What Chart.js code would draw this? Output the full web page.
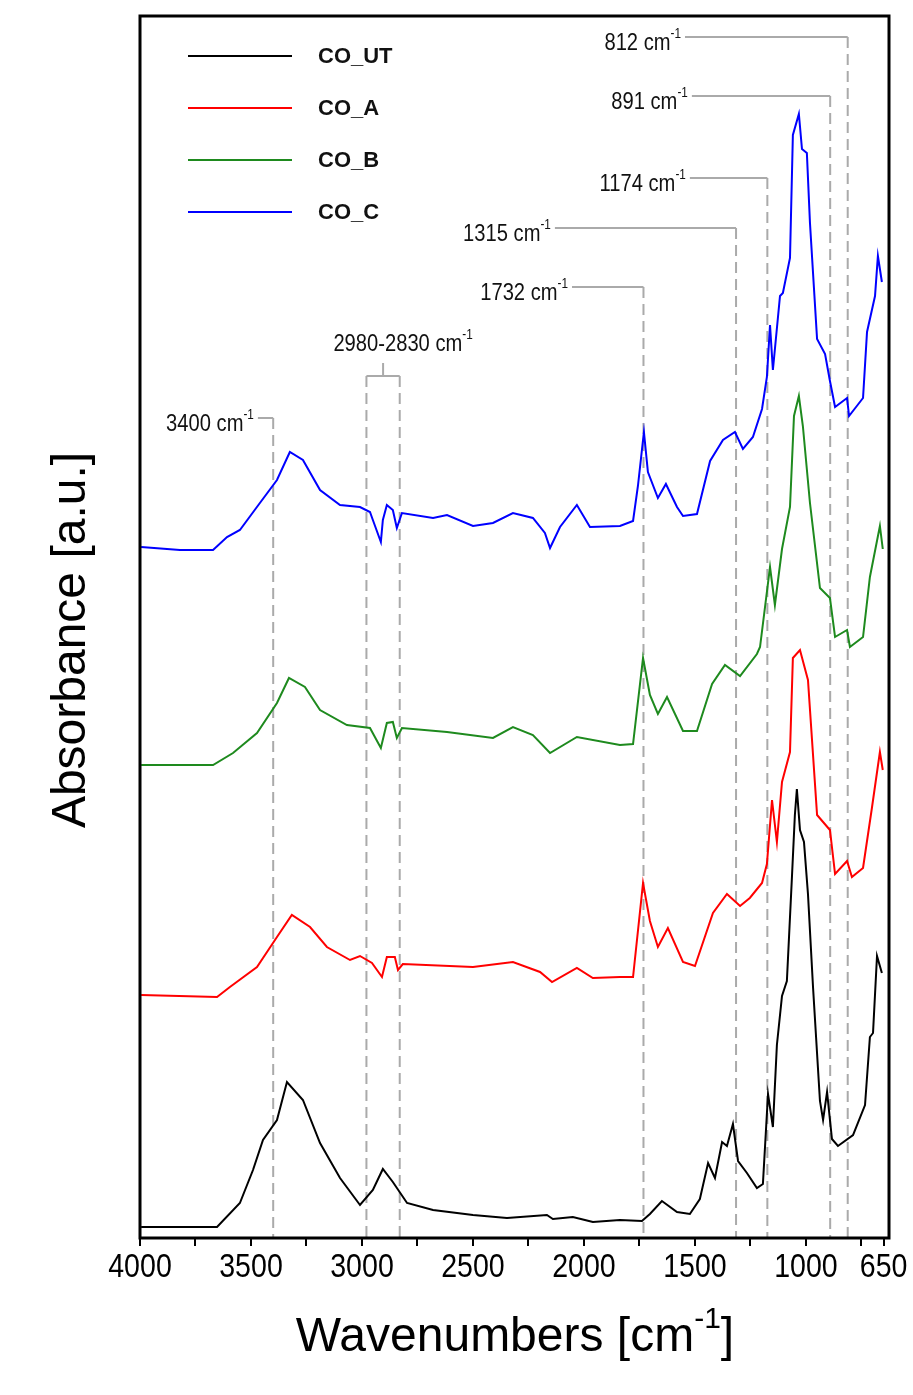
<!DOCTYPE html>
<html lang="en">
<head>
<meta charset="UTF-8">
<title>FTIR spectra</title>
<script src="https://cdn.jsdelivr.net/npm/chart.js"></script>
<style>
  html, body { margin: 0; padding: 0; background: #fff; }
  #wrap { width: 913px; height: 1395px; position: relative; }
</style>
</head>
<body>
<div id="wrap"><canvas id="ftir"></canvas></div>
<script>
// series names and colours
const seriesNames = ['CO_UT', 'CO_A', 'CO_B', 'CO_C'];
const seriesColors = ['#000000', '#ff0000', '#1e8a1e', '#0000ff'];

// wavenumbers (cm-1) and stacked absorbance (a.u.)
const wnUT = [3995,3653,3550,3491,3446,3383,3338,3266,3189,3099,3009,2951,2906,2861,2797,2680,2500,2347,2167,2140,2050,1960,1838,1739,1703,1649,1581,1523,1478,1441,1410,1378,1356,1329,1306,1266,1221,1194,1171,1149,1131,1108,1086,1063,1050,1041,1027,1009,991,968,937,923,905,883,856,788,734,712,698,680,658];
const absUT = [11,11,35,68,98,118,156,138,95,60,33,48,69,56,35,28,23,20,23,19,21,16,18,17,24,37,26,24,39,75,60,96,92,114,77,65,50,54,144,111,193,242,257,362,423,449,408,396,344,250,137,118,146,99,92,103,133,201,205,282,265];

const wnA = [3995,3653,3595,3473,3383,3316,3234,3158,3054,3009,2955,2910,2888,2852,2838,2816,2500,2320,2198,2144,2032,1960,1838,1779,1734,1703,1667,1622,1554,1500,1419,1356,1297,1253,1198,1176,1153,1131,1108,1072,1059,1027,991,950,892,869,815,793,743,703,667,654];
const absA = [243,241,251,271,301,323,311,291,278,282,275,261,281,281,268,274,271,276,266,256,270,260,261,261,355,317,291,310,276,272,325,344,332,340,355,374,438,396,456,486,580,588,558,423,408,364,377,361,370,430,486,468];

const wnB = [3995,3671,3581,3473,3383,3329,3257,3189,3068,2964,2915,2888,2861,2843,2820,2617,2410,2320,2230,2153,2032,1838,1779,1734,1703,1667,1626,1554,1491,1423,1365,1297,1221,1207,1162,1140,1108,1072,1054,1032,1014,982,937,892,869,815,802,743,712,667,654];
const absB = [473,473,485,505,535,560,551,528,513,510,490,515,516,500,510,506,500,511,503,485,501,493,494,580,543,524,541,507,507,554,573,562,584,591,671,633,689,731,822,842,812,735,650,640,601,608,591,601,661,712,689];

const wnC = [3995,3820,3671,3608,3550,3460,3383,3325,3266,3189,3099,3009,2964,2951,2915,2906,2888,2861,2843,2820,2680,2617,2500,2410,2320,2230,2176,2153,2108,2032,1973,1838,1779,1757,1730,1712,1667,1631,1581,1554,1491,1432,1374,1320,1284,1239,1198,1176,1162,1149,1117,1104,1072,1059,1032,1018,996,982,950,914,892,869,815,806,743,725,689,676,658];
const absC = [691,688,688,701,708,735,758,786,778,748,733,731,726,718,696,718,733,728,710,725,720,723,712,715,725,720,705,690,711,733,711,712,717,752,806,766,740,754,731,722,724,777,798,806,789,801,829,861,913,868,942,945,980,1103,1124,1089,1085,1015,899,884,857,831,840,822,840,906,942,982,956];

// x axis tick labels
const majorTicks = [4000, 3500, 3000, 2500, 2000, 1500, 1000, 650];

// peak markers: label, wavenumber(s), height of leader line, where the leader starts
const peakMarks = [
  { text: '812 cm', wn: [812], level: 1201, from: 1545 },
  { text: '891 cm', wn: [891], level: 1142, from: 1514 },
  { text: '1174 cm', wn: [1174], level: 1060, from: 1523 },
  { text: '1315 cm', wn: [1315], level: 1010, from: 2131 },
  { text: '1732 cm', wn: [1732], level: 951, from: 2054 },
  { text: '3400 cm', wn: [3400], level: 820, from: 3469 },
  { text: '2980-2830 cm', wn: [2980, 2830], level: 862, from: null }
];

const datasets = [[wnUT, absUT], [wnA, absA], [wnB, absB], [wnC, absC]].map((s, i) => ({
  label: seriesNames[i],
  data: s[0].map((w, j) => ({ x: w, y: s[1][j] })),
  borderColor: seriesColors[i],
  borderWidth: 2,
  pointRadius: 0,
  tension: 0,
  fill: false
}));

const sans = '"Liberation Sans", Arial, sans-serif';
const squeeze = 0.84;

// condensed text with a superscript, drawn by squeezing the canvas horizontally
function textWithSup(ctx, txt, sup, x, y, size, align) {
  ctx.save();
  ctx.font = size + 'px ' + sans;
  const w1 = ctx.measureText(txt).width * squeeze;
  const supSize = Math.round(size * 0.6);
  ctx.font = supSize + 'px ' + sans;
  const w2 = sup ? ctx.measureText(sup).width * squeeze : 0;
  const x0 = align === 'right' ? x - w1 - w2 : (align === 'center' ? x - (w1 + w2) / 2 : x);
  ctx.translate(x0, y);
  ctx.scale(squeeze, 1);
  ctx.textAlign = 'left';
  ctx.textBaseline = 'middle';
  ctx.font = size + 'px ' + sans;
  ctx.fillText(txt, 0, 0);
  if (sup) {
    ctx.font = supSize + 'px ' + sans;
    ctx.fillText(sup, w1 / squeeze, -size * 0.35);
  }
  ctx.restore();
}

const decorations = {
  id: 'decorations',
  beforeDatasetsDraw(chart) {
    const { ctx, chartArea: a, scales: { x, y } } = chart;
    ctx.save();
    ctx.strokeStyle = '#aaaaaa';
    ctx.lineWidth = 2;
    peakMarks.forEach(m => {
      const top = y.getPixelForValue(m.level);
      ctx.setLineDash([11, 6]);
      m.wn.forEach(w => {
        const px = x.getPixelForValue(w);
        ctx.beginPath(); ctx.moveTo(px, top); ctx.lineTo(px, a.bottom); ctx.stroke();
      });
      ctx.setLineDash([]);
      const px = x.getPixelForValue(m.wn[m.wn.length - 1]);
      if (m.from !== null) {
        ctx.beginPath(); ctx.moveTo(x.getPixelForValue(m.from), top); ctx.lineTo(px, top); ctx.stroke();
      } else {
        const p1 = x.getPixelForValue(m.wn[0]);
        const mid = (p1 + px) / 2;
        ctx.beginPath(); ctx.moveTo(p1, top); ctx.lineTo(px, top); ctx.stroke();
        ctx.beginPath(); ctx.moveTo(mid, top); ctx.lineTo(mid, top - 13); ctx.stroke();
      }
    });
    ctx.fillStyle = '#111';
    peakMarks.forEach(m => {
      const top = y.getPixelForValue(m.level);
      if (m.from !== null) {
        textWithSup(ctx, m.text, '-1', x.getPixelForValue(m.from) - 4, top + 6, 24, 'right');
      } else {
        const mid = (x.getPixelForValue(m.wn[0]) + x.getPixelForValue(m.wn[1])) / 2;
        textWithSup(ctx, m.text, '-1', mid + 20, top - 32, 24, 'center');
      }
    });
    ctx.restore();
  },
  afterDraw(chart) {
    const { ctx, chartArea: a, scales: { x } } = chart;
    ctx.save();
    // frame
    ctx.strokeStyle = '#000';
    ctx.lineWidth = 3;
    ctx.strokeRect(a.left, a.top, a.right - a.left, a.bottom - a.top);
    // x tick labels
    ctx.fillStyle = '#000';
    majorTicks.forEach(v => textWithSup(ctx, String(v), '', x.getPixelForValue(v), a.bottom + 30, 34, 'center'));
    // legend
    seriesNames.forEach((n, i) => {
      const ly = 56 + i * 52;
      ctx.strokeStyle = seriesColors[i];
      ctx.lineWidth = 2;
      ctx.beginPath(); ctx.moveTo(188, ly); ctx.lineTo(292, ly); ctx.stroke();
      ctx.fillStyle = '#111';
      ctx.font = 'bold 22px ' + sans;
      ctx.textAlign = 'left';
      ctx.textBaseline = 'middle';
      ctx.fillText(n, 318, ly + 1);
    });
    // axis titles
    ctx.fillStyle = '#000';
    ctx.font = '48px ' + sans;
    ctx.textAlign = 'left';
    ctx.textBaseline = 'middle';
    const t1 = 'Wavenumbers [cm';
    const w1 = ctx.measureText(t1).width;
    ctx.font = '30px ' + sans;
    const ws = ctx.measureText('-1').width;
    ctx.font = '48px ' + sans;
    const w3 = ctx.measureText(']').width;
    const x0 = 515 - (w1 + ws + w3) / 2;
    ctx.fillText(t1, x0, 1338);
    ctx.font = '30px ' + sans;
    ctx.fillText('-1', x0 + w1, 1320);
    ctx.font = '48px ' + sans;
    ctx.fillText(']', x0 + w1 + ws, 1338);
    ctx.translate(72, 640);
    ctx.rotate(-Math.PI / 2);
    ctx.textAlign = 'center';
    ctx.fillText('Absorbance [a.u.]', 0, 0);
    ctx.restore();
  }
};

new Chart(document.getElementById('ftir'), {
  type: 'line',
  data: { datasets },
  options: {
    responsive: true,
    maintainAspectRatio: false,
    animation: false,
    layout: { padding: { left: 140, right: 24, top: 16, bottom: 0 } },
    plugins: { legend: { display: false }, tooltip: { enabled: false } },
    scales: {
      x: {
        type: 'linear',
        reverse: true,
        min: 626,
        max: 4000,
        afterBuildTicks(scale) {
          const t = [];
          for (let v = 4000; v >= 750; v -= 250) t.push({ value: v });
          t.push({ value: 650 });
          scale.ticks = t;
        },
        afterFit(scale) { scale.height = 157; },
        ticks: { autoSkip: false, maxRotation: 0, callback: () => '' },
        grid: { drawOnChartArea: false, drawTicks: true, tickLength: 8, color: '#000', lineWidth: 2 },
        border: { display: false }
      },
      y: { display: false, min: 0, max: 1222 }
    }
  },
  plugins: [decorations]
});
</script>
</body>
</html>
